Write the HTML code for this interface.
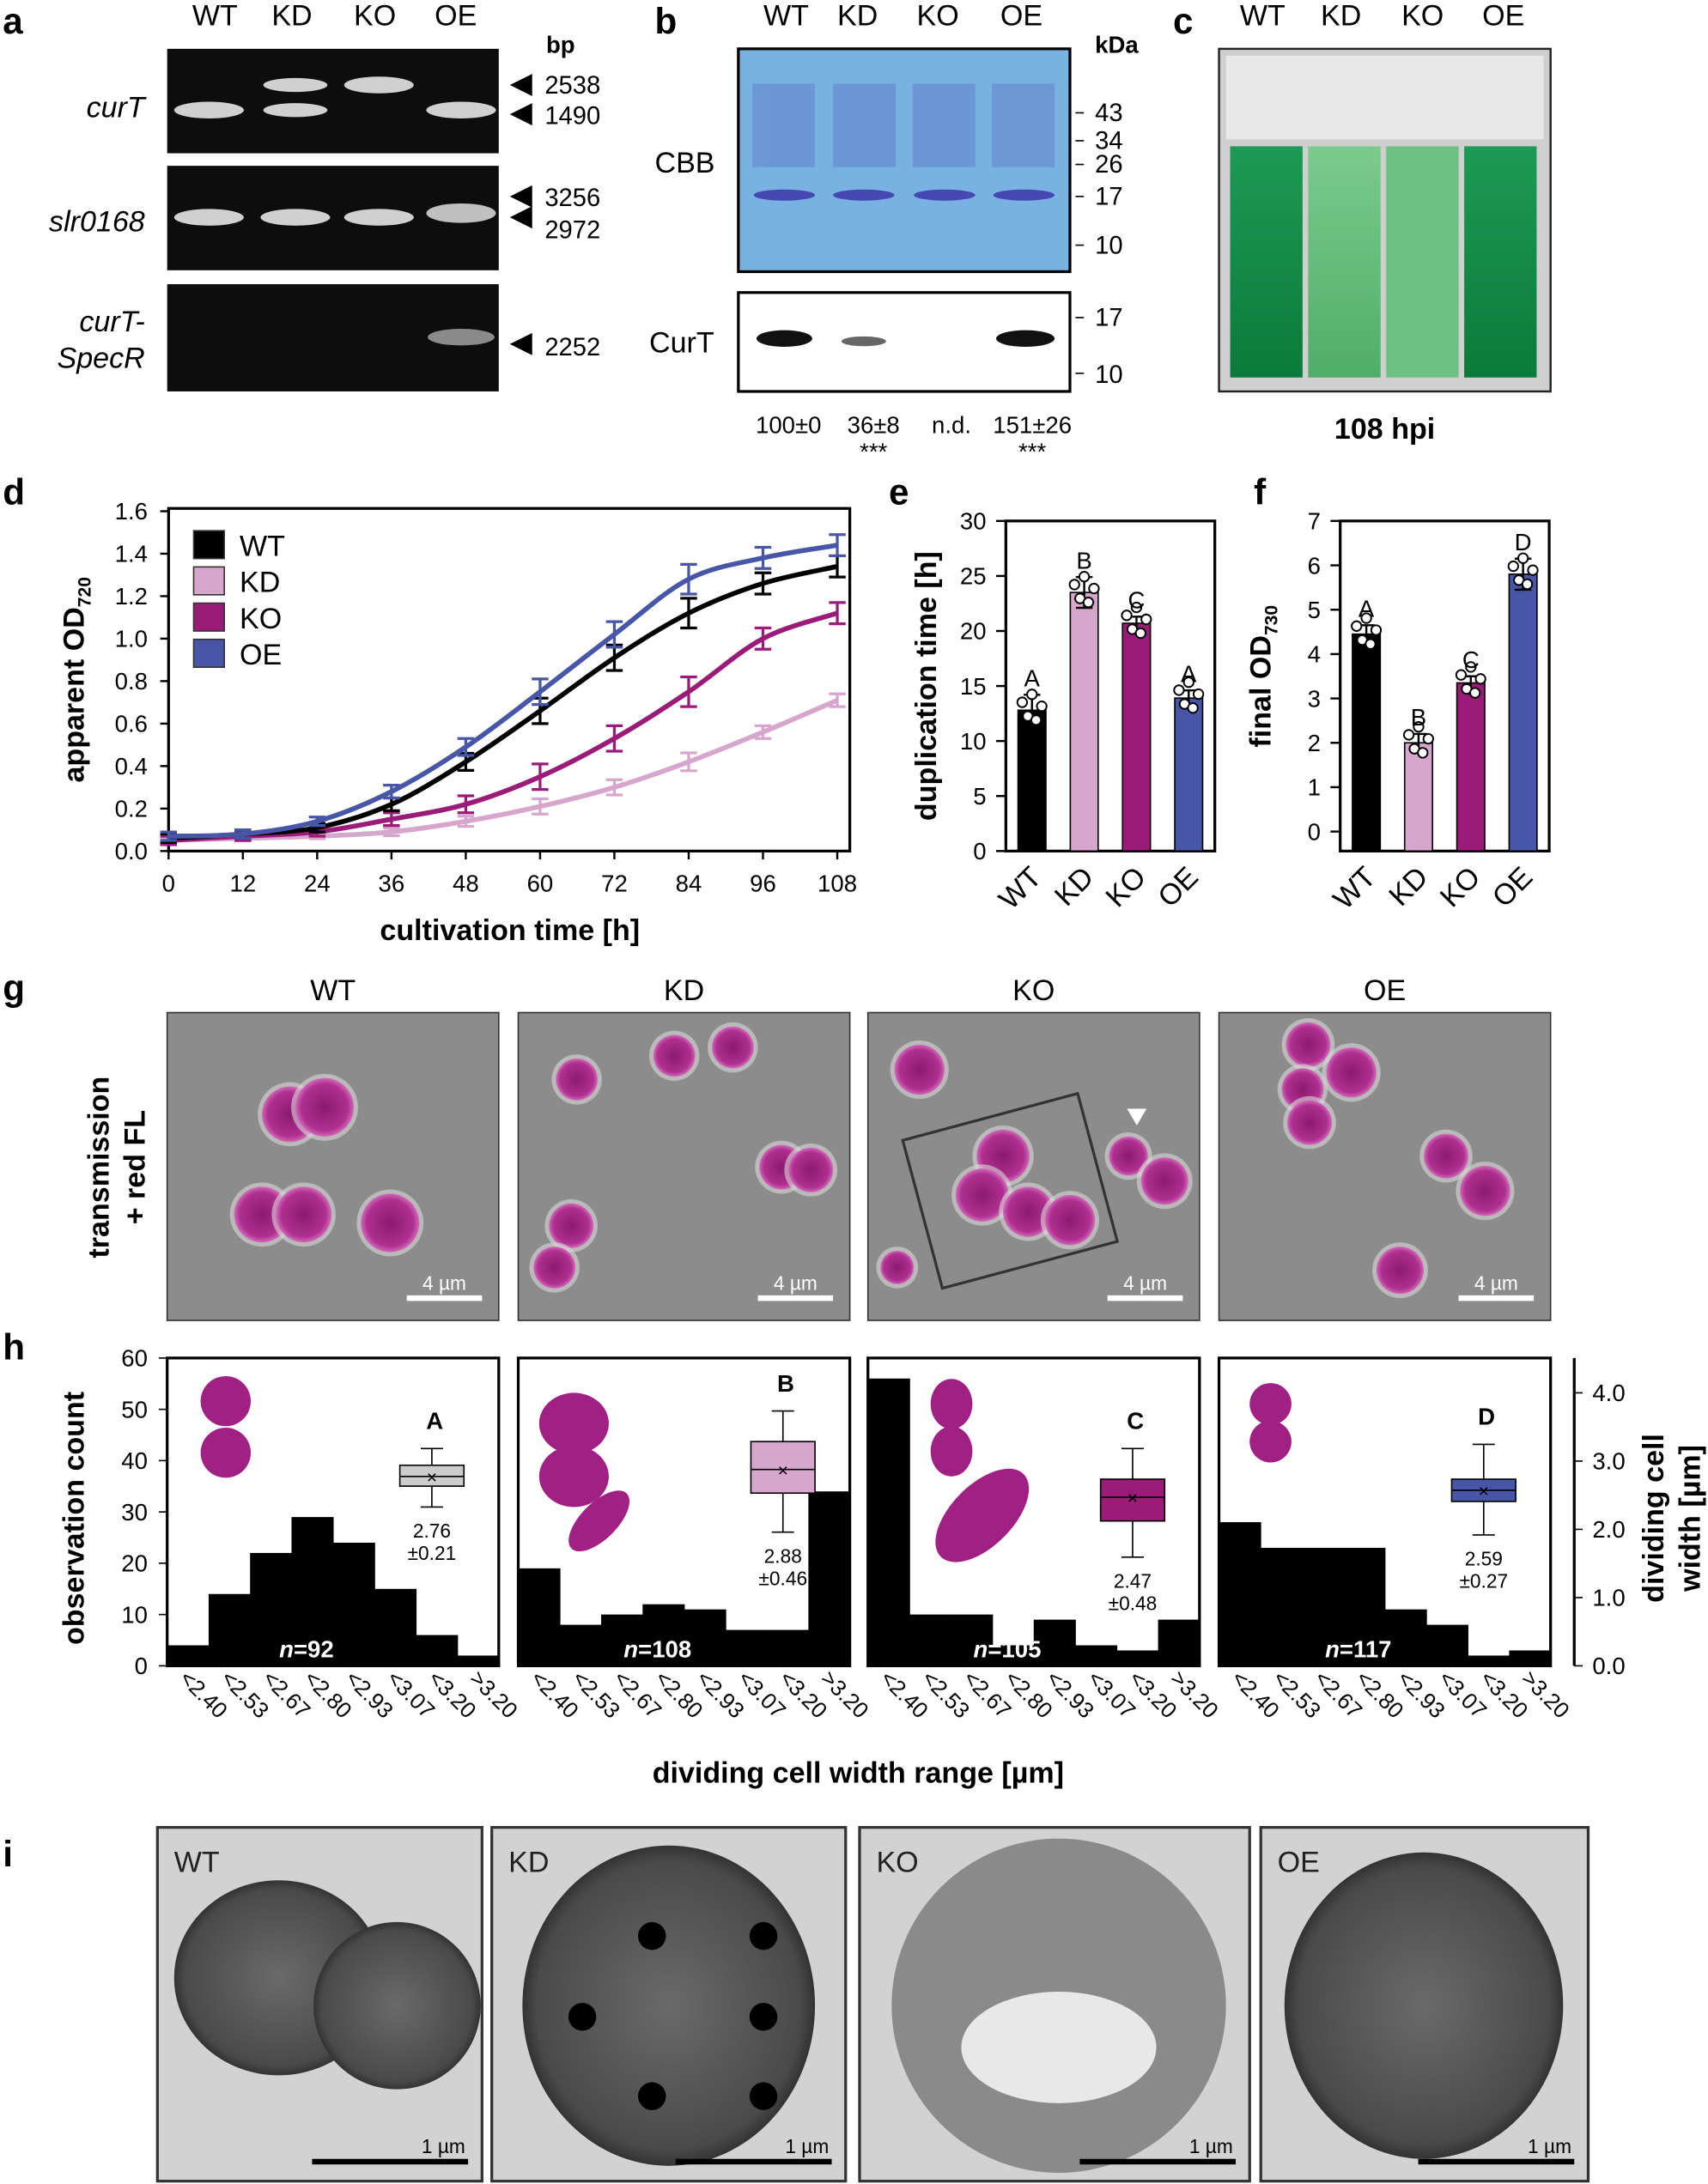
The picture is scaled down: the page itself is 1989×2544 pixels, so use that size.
<!DOCTYPE html>
<html><head><meta charset="utf-8"><style>
html,body{margin:0;padding:0;background:#fff}
svg{display:block;font-family:"Liberation Sans",Arial,sans-serif}
</style></head><body>
<svg id="fig" width="1989" height="2544" viewBox="0 0 1226 1568" xmlns="http://www.w3.org/2000/svg">
<defs>
<radialGradient id="cell" cx="50%" cy="50%" r="50%"><stop offset="0" stop-color="#8a1a70"/><stop offset="0.8" stop-color="#b0308f"/><stop offset="1" stop-color="#d06ab8"/></radialGradient>
<linearGradient id="cuvG" x1="0" y1="0" x2="0" y2="1"><stop offset="0" stop-color="#1d9a55"/><stop offset="1" stop-color="#0c7a3a"/></linearGradient>
<linearGradient id="cuvL" x1="0" y1="0" x2="0" y2="1"><stop offset="0" stop-color="#7ccb8c"/><stop offset="1" stop-color="#4fae68"/></linearGradient>
<radialGradient id="tem" cx="50%" cy="50%" r="50%"><stop offset="0" stop-color="#6a6a6a"/><stop offset="0.9" stop-color="#4a4a4a"/><stop offset="1" stop-color="#333"/></radialGradient>
</defs>
<g font-weight="bold" font-size="26">
<text x="2" y="24">a</text><text x="470" y="24">b</text><text x="842" y="24">c</text>
<text x="2" y="362">d</text><text x="638" y="362">e</text><text x="900" y="362">f</text>
<text x="2" y="718">g</text><text x="2" y="976">h</text><text x="2" y="1340">i</text></g>

<g font-size="21">
<text x="138" y="18">WT</text><text x="195" y="18">KD</text><text x="254" y="18">KO</text><text x="312" y="18">OE</text>
<rect x="120" y="35" width="238" height="75" fill="#0d0d0d"/>
<rect x="120" y="119" width="238" height="75" fill="#0d0d0d"/>
<rect x="120" y="204" width="238" height="77" fill="#0d0d0d"/>
<g fill="#d0d0d0">
<ellipse cx="150" cy="79" rx="25" ry="6"/><ellipse cx="212" cy="61" rx="23" ry="5"/><ellipse cx="212" cy="79" rx="23" ry="5"/><ellipse cx="272" cy="61" rx="25" ry="6"/><ellipse cx="331" cy="79" rx="25" ry="6"/>
<ellipse cx="150" cy="156" rx="25" ry="6"/><ellipse cx="212" cy="156" rx="25" ry="6"/><ellipse cx="272" cy="156" rx="25" ry="6"/><ellipse cx="331" cy="153" rx="25" ry="7" fill="#c0c0c0"/>
<ellipse cx="331" cy="242" rx="24" ry="6" fill="#8a8a8a"/></g>
<text x="104" y="84" font-style="italic" text-anchor="end">curT</text>
<text x="104" y="166" font-style="italic" text-anchor="end">slr0168</text>
<text x="104" y="238" font-style="italic" text-anchor="end">curT-</text>
<text x="104" y="264" font-style="italic" text-anchor="end">SpecR</text>
<text x="392" y="38" font-size="17" font-weight="bold">bp</text>
<g font-size="18"><path d="M366 61l16-8v16z M366 82l16-8v16z M366 141l16-8v16z M366 156l16-8v16z M366 247l16-8v16z" fill="#000"/>
<text x="391" y="67">2538</text><text x="391" y="89">1490</text><text x="391" y="148">3256</text><text x="391" y="171">2972</text><text x="391" y="255">2252</text></g>
</g>

<g font-size="21">
<text x="548" y="18">WT</text><text x="601" y="18">KD</text><text x="658" y="18">KO</text><text x="718" y="18">OE</text>
<rect x="530" y="35" width="238" height="160" fill="#78b2e2" stroke="#000" stroke-width="2"/>
<g fill="#5a70c0" opacity="0.4"><rect x="540" y="60" width="45" height="60"/><rect x="598" y="60" width="45" height="60"/><rect x="655" y="60" width="45" height="60"/><rect x="712" y="60" width="45" height="60"/></g>
<g fill="#4548b0"><ellipse cx="563" cy="140" rx="22" ry="4"/><ellipse cx="620" cy="140" rx="22" ry="4"/><ellipse cx="678" cy="140" rx="22" ry="4"/><ellipse cx="735" cy="140" rx="22" ry="4"/></g>
<rect x="530" y="210" width="238" height="71" fill="#fff" stroke="#000" stroke-width="2"/>
<g fill="#111"><ellipse cx="563" cy="243" rx="20" ry="6"/><ellipse cx="620" cy="245" rx="16" ry="3.5" fill="#666"/><ellipse cx="736" cy="243" rx="21" ry="6"/></g>
<text x="470" y="124">CBB</text><text x="466" y="253">CurT</text>
<text x="786" y="38" font-size="17" font-weight="bold">kDa</text>
<g stroke="#000"><path d="M772 81h6M772 101h6M772 118h6M772 141h6M772 176h6M772 228h6M772 268h6"/></g>
<g font-size="18"><text x="786" y="87">43</text><text x="786" y="107">34</text><text x="786" y="124">26</text><text x="786" y="147">17</text><text x="786" y="182">10</text><text x="786" y="234">17</text><text x="786" y="275">10</text></g>
<g font-size="17" text-anchor="middle"><text x="566" y="311">100±0</text><text x="627" y="311">36±8</text><text x="683" y="311">n.d.</text><text x="741" y="311">151±26</text>
<text x="627" y="330">***</text><text x="741" y="330">***</text></g>
</g>

<g>
<text x="890" y="18" font-size="21">WT</text><text x="948" y="18" font-size="21">KD</text><text x="1006" y="18" font-size="21">KO</text><text x="1064" y="18" font-size="21">OE</text>
<rect x="875" y="35" width="238" height="246" fill="#cfcfcf" stroke="#222" stroke-width="1.5"/>
<rect x="880" y="40" width="228" height="60" fill="#e8e8e8"/>
<rect x="883" y="105" width="52" height="166" fill="url(#cuvG)"/><rect x="939" y="105" width="52" height="166" fill="url(#cuvL)"/><rect x="995" y="105" width="52" height="166" fill="#6fc083"/><rect x="1051" y="105" width="52" height="166" fill="url(#cuvG)"/>
<text x="994" y="315" font-size="21" font-weight="bold" text-anchor="middle">108 hpi</text>
</g>

<g id="pd"></g>
<g id="pe"></g>
<g id="pf"></g>
<g id="pg"></g>
<g id="ph"></g>
<g id="pi"></g>
</svg>
<script>
const dTimes=[0,12,24,36,48,60,72,84,96,108];
const dWT=[0.06,0.08,0.11,0.22,0.42,0.66,0.91,1.12,1.26,1.34];
const dKD=[0.05,0.06,0.07,0.09,0.14,0.21,0.30,0.42,0.56,0.71];
const dKO=[0.05,0.07,0.09,0.15,0.22,0.35,0.53,0.75,1.00,1.12];
const dOE=[0.07,0.08,0.14,0.28,0.49,0.75,1.02,1.28,1.38,1.44];
const dErr=[0.02,0.02,0.02,0.03,0.04,0.06,0.06,0.07,0.05,0.05];
const dYTicks=[0,0.2,0.4,0.6,0.8,1.0,1.2,1.4,1.6];
const strains=['WT','KD','KO','OE'];
const eVals=[12.8,23.5,20.7,13.9];
const eErr=[1.4,1.4,0.6,0.7];
const eLetters=['A','B','C','A'];
const eTicks=[0,5,10,15,20,25,30];
const fVals=[4.45,2.0,3.35,5.8];
const fErr=[0.2,0.2,0.15,0.35];
const fLetters=['A','B','C','D'];
const fTicks=[0,1,2,3,4,5,6,7];
const hBins=['<2.40','<2.53','<2.67','<2.80','<2.93','<3.07','<3.20','>3.20'];
const hWT=[4,14,22,29,24,15,6,2];
const hKD=[19,8,10,12,11,7,7,34];
const hKO=[56,10,10,4,9,4,3,9];
const hOE=[28,23,23,23,11,8,2,3];
const hN=[92,108,105,117];
const hMean=['2.76','2.88','2.47','2.59'];
const hSd=['±0.21','±0.46','±0.48','±0.27'];
const hCountTicks=[0,10,20,30,40,50,60];
const hWidthTicks=['0.0','1.0','2.0','3.0','4.0'];

const colors=['#000','#d6a6cc','#9b1b79','#4856a8'];
const NS='http://www.w3.org/2000/svg';
function mk(parent,tag,attrs,txt){const e=document.createElementNS(NS,tag);for(const k in attrs)e.setAttribute(k,attrs[k]);if(txt!==undefined)e.textContent=txt;parent.appendChild(e);return e;}

(function(){
const g=document.getElementById('pd');
const X=t=>121+t*(480/108), Y=v=>611-v*152.5;
mk(g,'rect',{x:121,y:365,width:489,height:246,fill:'none',stroke:'#000','stroke-width':2});
dYTicks.forEach(v=>{const t=mk(g,'text',{x:106,y:Y(v)+6,'font-size':17,'text-anchor':'end'},v.toFixed(1));mk(g,'line',{x1:115,x2:121,y1:Y(v),y2:Y(v),stroke:'#000','stroke-width':1.5});});
dTimes.forEach(v=>{const t=mk(g,'text',{x:X(v),y:640,'font-size':17,'text-anchor':'middle'},v);mk(g,'line',{x1:X(v),x2:X(v),y1:611,y2:617,stroke:'#000','stroke-width':1.5});});
const xt=mk(g,'text',{x:366,y:675,'font-size':21,'font-weight':'bold','text-anchor':'middle'},'cultivation time [h]');
const yt=mk(g,'text',{transform:'translate(60,488) rotate(-90)','font-size':21,'font-weight':'bold','text-anchor':'middle'});
yt.innerHTML='apparent OD<tspan font-size="13" dy="5">720</tspan>';
[1,2,0,3].forEach(i=>{const s=[dWT,dKD,dKO,dOE][i];const c=colors[i];
 const P=s.map((v,j)=>[X(dTimes[j]),Y(v)]);
 let d='M'+P[0][0]+' '+P[0][1];
 for(let j=0;j<P.length-1;j++){const p0=P[Math.max(j-1,0)],p1=P[j],p2=P[j+1],p3=P[Math.min(j+2,P.length-1)];
  const c1=[p1[0]+(p2[0]-p0[0])/6,p1[1]+(p2[1]-p0[1])/6],c2=[p2[0]-(p3[0]-p1[0])/6,p2[1]-(p3[1]-p1[1])/6];
  d+=` C${c1[0]} ${c1[1]} ${c2[0]} ${c2[1]} ${p2[0]} ${p2[1]}`;}
 const p=mk(g,'path',{d:d,fill:'none',stroke:c,'stroke-width':3.5});
 s.forEach((v,j)=>{const x=X(dTimes[j]),e=dErr[j]*152.5*(i==1?0.6:1);const b=mk(g,'path',{d:`M${x} ${Y(v)-e}V${Y(v)+e}M${x-6} ${Y(v)-e}h12M${x-6} ${Y(v)+e}h12`,stroke:c,'stroke-width':2,fill:'none'});});
});
strains.forEach((s,i)=>{const r=mk(g,'rect',{x:139,y:381+i*26,width:22,height:20,fill:colors[i],stroke:'#333'});const t=mk(g,'text',{x:172,y:399+i*26,'font-size':21},s);});
})();

function barChart(id,x0,x1,y0,yTop,vmax,ticks,vals,errs,letters,title,sub,zeroY){
const g=document.getElementById(id);
const sc=(y0-yTop)/vmax, Y=v=>y0-v*sc;
mk(g,'rect',{x:x0,y:yTop,width:x1-x0,height:(zeroY||y0)-yTop,fill:'none',stroke:'#000','stroke-width':2});
ticks.forEach(v=>{const t=mk(g,'text',{x:x0-14,y:Y(v)+6,'font-size':17,'text-anchor':'end'},v);mk(g,'line',{x1:x0-7,x2:x0,y1:Y(v),y2:Y(v),stroke:'#000','stroke-width':1.5});});
const bw=(x1-x0)/4;
vals.forEach((v,i)=>{const cx=x0+bw*(i+0.5);const base=zeroY||y0;
 const r=mk(g,'rect',{x:cx-10,y:Y(v),width:20,height:base-Y(v),fill:colors[i],stroke:'#000','stroke-width':1});
 const e=errs[i]*sc;mk(g,'path',{d:`M${cx} ${Y(v)-e}V${Y(v)+e}M${cx-6} ${Y(v)-e}h12M${cx-6} ${Y(v)+e}h12`,stroke:'#000','stroke-width':1.5,fill:'none'});
 [-7,-3,3,7,0].forEach((dx,k)=>mk(g,'circle',{cx:cx+dx,cy:Y(v)+[-4,3,5,-2,-8][k]*sc*0.03*(id=='pe'?6:1.5),r:3.5,fill:'#fff',stroke:'#000','stroke-width':1.2}));
 const t=mk(g,'text',{x:cx,y:Y(v)-e-6,'font-size':17,'text-anchor':'middle'},letters[i]);
 const l=mk(g,'text',{transform:`translate(${cx+8},${(zeroY||y0)+20}) rotate(-45)`,'font-size':21,'text-anchor':'end'},strains[i]);
});
const yt=mk(g,'text',{transform:`translate(${x0-50},${(yTop+y0)/2}) rotate(-90)`,'font-size':21,'font-weight':'bold','text-anchor':'middle'});
yt.innerHTML=title+(sub?'<tspan font-size="13" dy="5">'+sub+'</tspan>':'');
}
barChart('pe',722,872,611,374,30,eTicks,eVals,eErr,eLetters,'duplication time [h]','',null);
barChart('pf',962,1112,597,374,7,fTicks,fVals,fErr,fLetters,'final OD','730',611);

(function(){
const g=document.getElementById('pg');const xs=[120,372,623,875];const titles=['WT','KD','KO','OE'];
const cells=[[[208,800,20],[233,795,21],[188,872,20],[218,872,20],[280,878,21]],
 [[414,775,15],[484,758,15],[526,752,15],[561,838,16],[582,840,16],[410,880,16],[398,910,15]],
 [[660,768,18],[720,830,19],[705,858,19],[738,870,18],[768,876,18],[810,830,14],[836,848,17],[644,910,12]],
 [[939,750,16],[970,770,18],[935,782,15],[940,806,16],[1038,830,16],[1066,855,18],[1005,912,17]]];
xs.forEach((x,i)=>{const r=mk(g,'rect',{x:x,y:727,width:238,height:221,fill:'#8c8c8c',stroke:'#333','stroke-width':1});
 const t=mk(g,'text',{x:x+119,y:718,'font-size':21,'text-anchor':'middle'},titles[i]);
 cells[i].forEach(c=>{mk(g,'circle',{cx:c[0],cy:c[1],r:c[2]+3,fill:'#d8d8d8',opacity:0.6});mk(g,'circle',{cx:c[0],cy:c[1],r:c[2],fill:'url(#cell)'});});
 mk(g,'line',{x1:x+172,x2:x+226,y1:932,y2:932,stroke:'#fff','stroke-width':4});
 const s=mk(g,'text',{x:x+199,y:926,'font-size':14,fill:'#fff','text-anchor':'middle'},'4 µm');
});
mk(g,'rect',{x:660,y:800,width:130,height:110,fill:'none',stroke:'#333','stroke-width':2,transform:'rotate(-15 725 855)'});
mk(g,'path',{d:'M809 796l7 12 7-12z',fill:'#fff'});
const yt=mk(g,'text',{transform:'translate(78,838) rotate(-90)','font-size':21,'font-weight':'bold','text-anchor':'middle'},'transmission');
mk(g,'text',{transform:'translate(104,838) rotate(-90)','font-size':21,'font-weight':'bold','text-anchor':'middle'},'+ red FL');
})();

(function(){
const g=document.getElementById('ph');const xs=[120,372,623,875];const data=[hWT,hKD,hKO,hOE];
const y0=1196,sc=(1196-975)/60,Y=v=>y0-v*sc;const bw=238/8;
const boxCol=['#cccccc','#d6a6cc','#9b1b79','#4856a8'];
const boxY=[[1060,1052,1067,1040,1082],[1055,1035,1072,1013,1100],[1075,1062,1092,1040,1118],[1070,1062,1078,1037,1102]];
const letters=['A','B','C','D'];
xs.forEach((x,i)=>{
 data[i].forEach((v,j)=>{const top=Math.max(Y(v),975);const r=mk(g,'rect',{x:x+j*bw,y:top,width:bw+0.5,height:y0-top,fill:'#000'});
  const t=mk(g,'text',{transform:`translate(${x+j*bw+8},${y0+10}) rotate(45)`,'font-size':16},hBins[j]);});
 mk(g,'rect',{x:x,y:975,width:238,height:221,fill:'none',stroke:'#000','stroke-width':2});
 const n=mk(g,'text',{x:x+100,y:1190,'font-size':17,'font-weight':'bold',fill:'#fff','text-anchor':'middle'});n.innerHTML='<tspan font-style="italic">n</tspan>='+hN[i];
 const bx=x+190,b=boxY[i];
 mk(g,'line',{x1:bx,x2:bx,y1:b[3],y2:b[4],stroke:'#000'});mk(g,'path',{d:`M${bx-8} ${b[3]}h16M${bx-8} ${b[4]}h16`,stroke:'#000'});
 mk(g,'rect',{x:bx-23,y:b[1],width:46,height:b[2]-b[1],fill:boxCol[i],stroke:'#000'});mk(g,'line',{x1:bx-23,x2:bx+23,y1:b[0],y2:b[0],stroke:'#000'});
 mk(g,'text',{x:bx,y:b[0]+5,'font-size':13,'text-anchor':'middle'},'×');
 mk(g,'text',{x:bx+2,y:b[3]-14,'font-size':17,'font-weight':'bold','text-anchor':'middle'},letters[i]);
 mk(g,'text',{x:bx,y:b[4]+22,'font-size':14,'text-anchor':'middle'},hMean[i]);mk(g,'text',{x:bx,y:b[4]+38,'font-size':14,'text-anchor':'middle'},hSd[i]);
});
// cell icons (hourglass shapes)
[[42,1005,14,20],[42,1042,14,20]].forEach(c=>mk(g,'ellipse',{cx:120+c[0],cy:c[1]+1,rx:c[2]+4,ry:c[3]-2,fill:'#a02084'}));
[[412,1022,25,22],[412,1060,25,22]].forEach(c=>mk(g,'ellipse',{cx:c[0],cy:c[1],rx:c[2],ry:c[3],fill:'#a02084'}));
mk(g,'ellipse',{cx:430,cy:1092,rx:13,ry:28,fill:'#a02084',transform:'rotate(45 430 1092)'});
[[683,1008],[683,1042]].forEach(c=>mk(g,'ellipse',{cx:c[0],cy:c[1],rx:15,ry:18,fill:'#a02084'}));
mk(g,'ellipse',{cx:705,cy:1088,rx:22,ry:42,fill:'#a02084',transform:'rotate(45 705 1088)'});
[[912,1008],[912,1035]].forEach(c=>mk(g,'ellipse',{cx:c[0],cy:c[1],rx:15,ry:15,fill:'#a02084'}));
hCountTicks.forEach(v=>{const t=mk(g,'text',{x:106,y:Y(v)+6,'font-size':17,'text-anchor':'end'},v);mk(g,'line',{x1:114,x2:120,y1:Y(v),y2:Y(v),stroke:'#000'});});
hWidthTicks.forEach((v,k)=>{const y=1196-k*49;const t=mk(g,'text',{x:1143,y:y+6,'font-size':17},v);mk(g,'line',{x1:1130,x2:1136,y1:y,y2:y,stroke:'#000'});});
mk(g,'line',{x1:1130,x2:1130,y1:975,y2:1196,stroke:'#000','stroke-width':2});
const yt=mk(g,'text',{transform:'translate(60,1090) rotate(-90)','font-size':21,'font-weight':'bold','text-anchor':'middle'},'observation count');
const rt=mk(g,'text',{transform:'translate(1194,1090) rotate(-90)','font-size':21,'font-weight':'bold','text-anchor':'middle'},'dividing cell');
mk(g,'text',{transform:'translate(1220,1090) rotate(-90)','font-size':21,'font-weight':'bold','text-anchor':'middle'},'width [µm]');
const xt=mk(g,'text',{x:616,y:1280,'font-size':21,'font-weight':'bold','text-anchor':'middle'},'dividing cell width range [µm]');
})();

(function(){
const g=document.getElementById('pi');const ps=[[113,233],[353,254],[617,280],[905,235]];const t=['WT','KD','KO','OE'];
const cells=[[[200,1420,75,70],[285,1440,60,60]],[[480,1440,105,115]],[[760,1440,120,120]],[[1022,1440,100,110]]];
ps.forEach((p,i)=>{const r=mk(g,'rect',{x:p[0],y:1312,width:p[1],height:254,fill:'#d2d2d2',stroke:'#333','stroke-width':2});
 cells[i].forEach(c=>mk(g,'ellipse',{cx:c[0],cy:c[1],rx:c[2],ry:c[3],fill:i==2?'#8a8a8a':'url(#tem)'}));
 const l=mk(g,'text',{x:p[0]+12,y:1344,'font-size':21,fill:'#222'},t[i]);
 mk(g,'line',{x1:p[0]+p[1]-122,x2:p[0]+p[1]-10,y1:1552,y2:1552,stroke:'#000','stroke-width':4});
 mk(g,'text',{x:p[0]+p[1]-12,y:1546,'font-size':14,'text-anchor':'end'},'1 µm');
});
[[468,1390],[548,1390],[418,1448],[548,1448],[468,1505],[548,1505]].forEach(c=>mk(g,'circle',{cx:c[0],cy:c[1],r:10,fill:'#000'}));
mk(g,'ellipse',{cx:760,cy:1470,rx:70,ry:40,fill:'#e8e8e8'});
})();
</script>
</body></html>
